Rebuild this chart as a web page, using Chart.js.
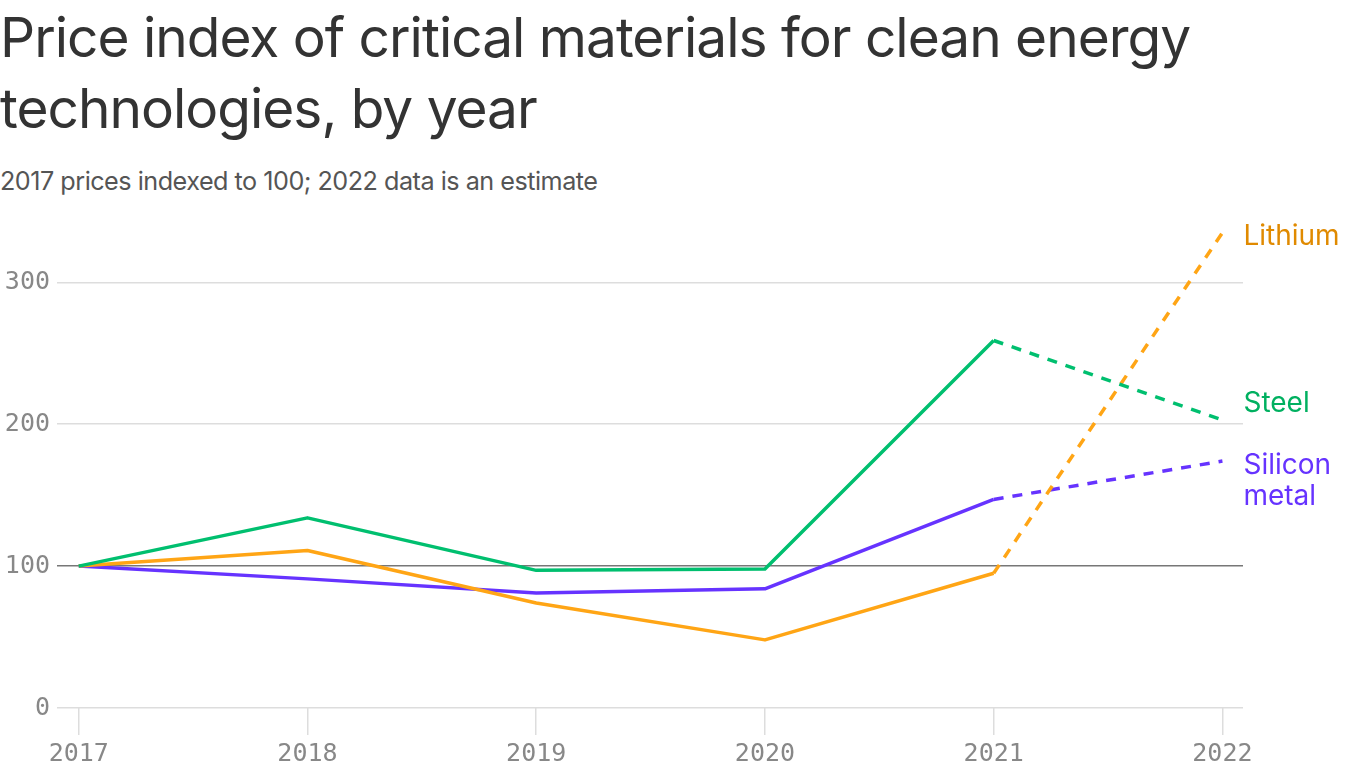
<!DOCTYPE html>
<html>
<head>
<meta charset="utf-8">
<script src="https://cdn.jsdelivr.net/npm/chart.js@4/dist/chart.umd.min.js"></script>
<style>
  html, body { margin: 0; padding: 0; background: #fff; }
  body { width: 1366px; height: 768px; position: relative; overflow: hidden; font-family: Inter, "Noto Sans", sans-serif; }
  h1 { position: absolute; left: 0; top: 2px; margin: 0; font-size: 55px; font-weight: 400; line-height: 71px; color: #333; letter-spacing: -1px; }
  .sub { position: absolute; left: 0; top: 166px; font-size: 25.2px; color: #555; letter-spacing: -0.5px; }
  #wrap { position: absolute; left: 0; top: 200px; width: 1366px; height: 568px; }
</style>
</head>
<body>
<h1>Price index of critical materials for clean energy<br>technologies, by year</h1>
<div class="sub">2017 prices indexed to 100; 2022 data is an estimate</div>
<div id="wrap"><canvas id="chart"></canvas></div>
<script>
// years and values (2017 = 100, 2022 is an estimate)
const years = [2017, 2018, 2019, 2020, 2021, 2022];
const lithium = [100, 111, 74, 48, 95, 335];
const steel = [100, 134, 97, 98, 259, 203];
const silicon = [100, 91, 81, 84, 147, 174];
const yTicks = [0, 100, 200, 300];

const seriesNames = ['Lithium', 'Steel', 'Silicon metal'];
const lineColors = ['#ffa515', '#00bf6f', '#6633ff'];
const labelColors = ['#e08a00', '#00b060', '#6633ff'];

const toPoints = vals => vals.map((v, i) => ({ x: years[i], y: v }));

// last segment (the estimate) is dashed
const estimateDash = ctx => ctx.p1DataIndex === years.length - 1 ? [10, 9] : undefined;

const makeSet = (i, vals) => ({
  label: seriesNames[i],
  data: toPoints(vals),
  borderColor: lineColors[i],
  borderWidth: 3.5,
  pointRadius: 0,
  tension: 0,
  borderJoinStyle: 'round',
  segment: { borderDash: estimateDash }
});

// end labels next to the last point
const endLabels = {
  id: 'endLabels',
  afterDatasetsDraw(chart) {
    const c = chart.ctx;
    const shifts = { 'Lithium': 4, 'Steel': -16, 'Silicon metal': 4 };
    c.save();
    c.font = '28px Inter, "Noto Sans", sans-serif';
    c.textBaseline = 'middle';
    c.textAlign = 'left';
    chart.data.datasets.forEach((ds, i) => {
      const idx = seriesNames.indexOf(ds.label);
      const pt = chart.getDatasetMeta(i).data[years.length - 1];
      const lines = ds.label === 'Silicon metal' ? ['Silicon', 'metal'] : [ds.label];
      c.fillStyle = labelColors[idx];
      lines.forEach((t, k) => c.fillText(t, pt.x + 21, pt.y + shifts[ds.label] + k * 31));
    });
    c.restore();
  }
};

const monoFont = { family: '"DejaVu Sans Mono", "Liberation Mono", monospace', size: 25 };

new Chart(document.getElementById('chart'), {
  type: 'line',
  data: {
    datasets: [makeSet(1, steel), makeSet(0, lithium), makeSet(2, silicon)]
  },
  options: {
    responsive: true,
    maintainAspectRatio: false,
    animation: false,
    layout: { padding: { left: 0, right: 123, top: 1, bottom: 0 } },
    plugins: { legend: { display: false }, tooltip: { enabled: false } },
    scales: {
      x: {
        type: 'linear',
        min: 2016.905,
        max: 2022.09,
        afterBuildTicks: s => { s.ticks = years.map(v => ({ value: v })); },
        afterFit: s => { s.height = 60; },
        border: { display: false },
        grid: { drawOnChartArea: false, drawTicks: true, tickLength: 27, color: '#dddddd', lineWidth: 1.5 },
        ticks: { color: '#888', font: monoFont, padding: 4, callback: v => String(v), maxRotation: 0 }
      },
      y: {
        min: 0,
        max: 342.5,
        afterBuildTicks: s => { s.ticks = yTicks.map(v => ({ value: v })); },
        afterFit: s => { s.width = 57; },
        border: { display: false },
        grid: {
          drawTicks: false,
          color: c => c.tick && c.tick.value === 100 ? '#777777' : '#dddddd',
          lineWidth: 1.5
        },
        ticks: { color: '#888', font: monoFont, padding: 7 }
      }
    }
  },
  plugins: [endLabels]
});
</script>
</body>
</html>
